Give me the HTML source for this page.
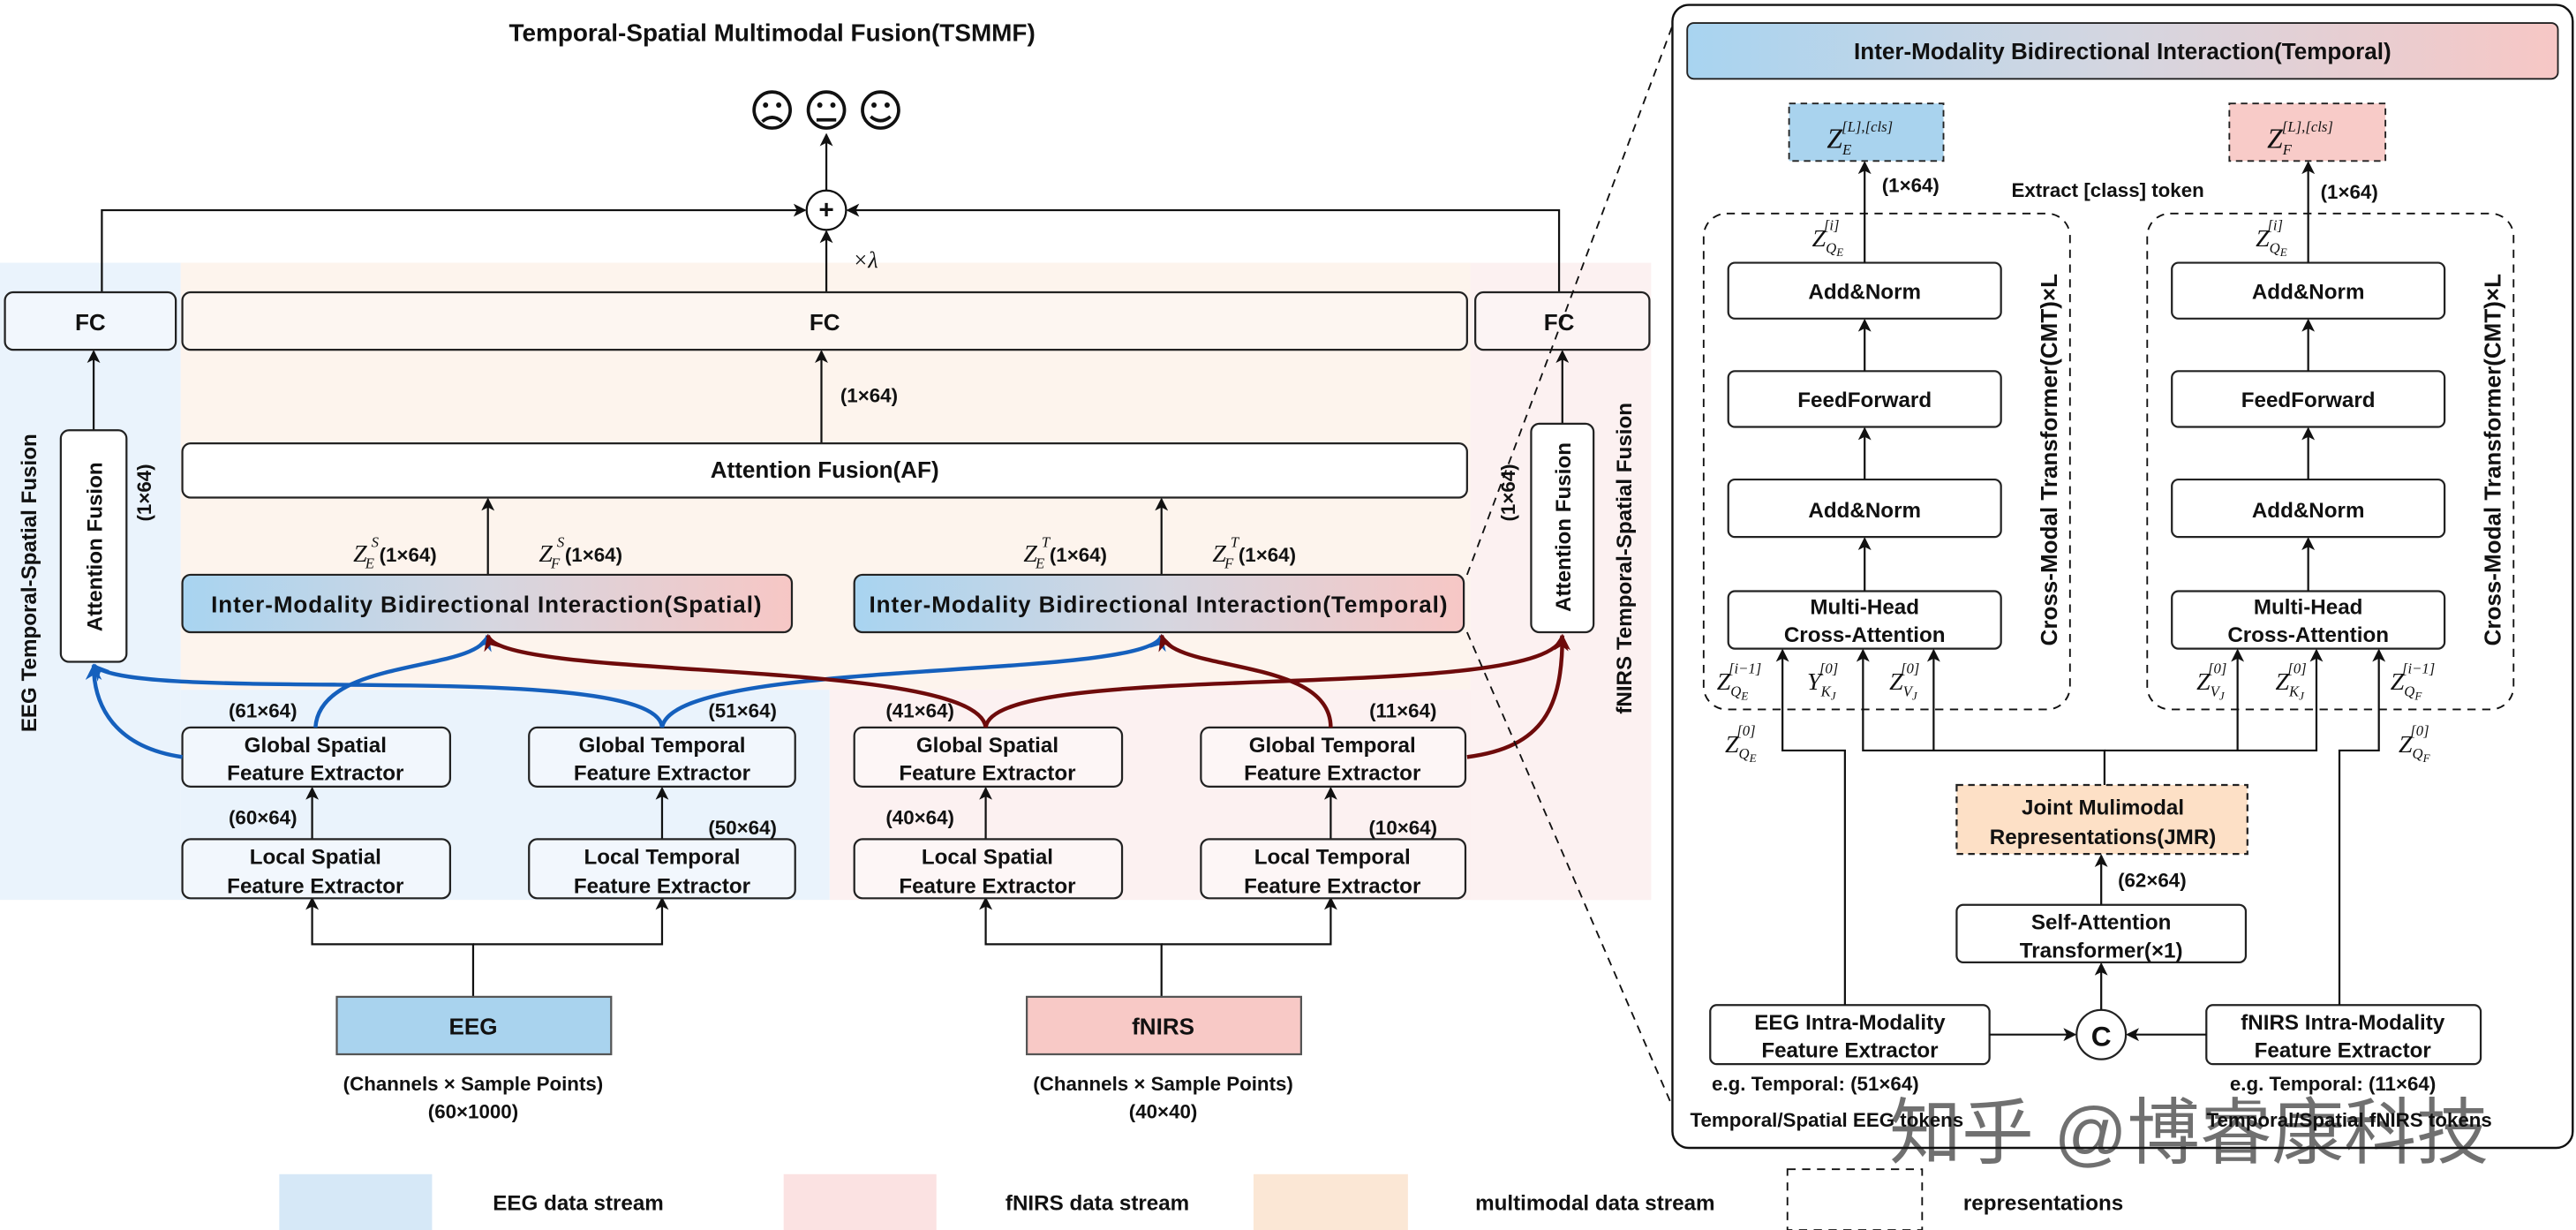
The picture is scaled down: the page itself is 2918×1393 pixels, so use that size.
<!DOCTYPE html>
<html><head><meta charset="utf-8"><style>
html,body{margin:0;padding:0;background:#fff;}
svg{display:block;}
text{font-family:"Liberation Sans",sans-serif;font-weight:bold;fill:#111;}
.m{font-family:"Liberation Serif",serif;font-style:italic;font-weight:normal;}
.s{font-size:9px;}
.t{font-size:7px;}
</style></head><body>
<svg width="2918" height="1393" viewBox="0 0 1568 749" preserveAspectRatio="none" xmlns="http://www.w3.org/2000/svg">
<defs>
<marker id="a" markerWidth="8" markerHeight="8" refX="7" refY="4" orient="auto" markerUnits="userSpaceOnUse"><path d="M0,0 L8,4 L0,8 L2,4 z" fill="#111"/></marker>
<marker id="ab" markerWidth="10" markerHeight="10" refX="9" refY="5" orient="auto" markerUnits="userSpaceOnUse"><path d="M0,0 L10,5 L0,10 L3,5 z" fill="#1560bd"/></marker>
<marker id="ar" markerWidth="10" markerHeight="10" refX="9" refY="5" orient="auto" markerUnits="userSpaceOnUse"><path d="M0,0 L10,5 L0,10 L3,5 z" fill="#6e0b0b"/></marker>
<linearGradient id="g" x1="0" x2="1"><stop offset="0" stop-color="#a8d4f0"/><stop offset="0.5" stop-color="#d5d6e0"/><stop offset="1" stop-color="#f7c7c5"/></linearGradient>
</defs>

<rect x="0" y="160" width="110" height="388" fill="#eaf3fc"/>
<rect x="110" y="420" width="395" height="128" fill="#eaf3fc"/>
<rect x="110" y="160" width="785" height="260" fill="#fdf4ed"/>
<rect x="505" y="420" width="500" height="128" fill="#fcf1f1"/>
<rect x="895" y="160" width="110" height="388" fill="#fcf1f1"/>

<text x="470" y="25" font-size="15" text-anchor="middle">Temporal-Spatial Multimodal Fusion(TSMMF)</text>
<!-- faces -->
<g stroke="#111" stroke-width="2" fill="none">
<circle cx="470" cy="67" r="11"/><circle cx="503" cy="67" r="11"/><circle cx="536" cy="67" r="11"/>
<path d="M464,74 Q470,69 476,74"/><line x1="497" y1="73" x2="509" y2="73"/><path d="M530,71 Q536,76 542,71"/>
</g>
<g fill="#111">
<circle cx="466" cy="64" r="1.6"/><circle cx="474" cy="64" r="1.6"/>
<circle cx="499" cy="64" r="1.6"/><circle cx="507" cy="64" r="1.6"/>
<circle cx="532" cy="64" r="1.6"/><circle cx="540" cy="64" r="1.6"/>
</g>

<g stroke="#111" stroke-width="1.2" fill="none">
<line x1="503" y1="116" x2="503" y2="82" marker-end="url(#a)"/>
<circle cx="503" cy="128" r="12" fill="#fff"/>
<polyline points="62,178 62,128 490,128" marker-end="url(#a)"/>
<polyline points="949,178 949,128 516,128" marker-end="url(#a)"/>
<line x1="503" y1="178" x2="503" y2="141" marker-end="url(#a)"/>
<line x1="500" y1="270" x2="500" y2="214" marker-end="url(#a)"/>
<line x1="297" y1="350" x2="297" y2="304" marker-end="url(#a)"/>
<line x1="707" y1="350" x2="707" y2="304" marker-end="url(#a)"/>
<line x1="57" y1="262" x2="57" y2="214" marker-end="url(#a)"/>
<line x1="951" y1="258" x2="951" y2="214" marker-end="url(#a)"/>
<line x1="190" y1="511" x2="190" y2="480" marker-end="url(#a)"/>
<line x1="403" y1="511" x2="403" y2="480" marker-end="url(#a)"/>
<line x1="600" y1="511" x2="600" y2="480" marker-end="url(#a)"/>
<line x1="810" y1="511" x2="810" y2="480" marker-end="url(#a)"/>
<polyline points="288,607 288,575 190,575 190,547" marker-end="url(#a)"/>
<polyline points="288,575 403,575 403,547" marker-end="url(#a)"/>
<polyline points="707,607 707,575 600,575 600,547" marker-end="url(#a)"/>
<polyline points="707,575 810,575 810,547" marker-end="url(#a)"/>
</g>
<text x="503" y="133" font-size="16" text-anchor="middle">+</text>
<text x="519" y="163" class="m" font-size="14">×λ</text>

<g stroke="#222" stroke-width="1.2" fill="#fff">
<rect x="3" y="178" width="104" height="35" rx="5" fill="#f2f7fd"/>
<rect x="111" y="178" width="782" height="35" rx="5" fill="#fdf6f1"/>
<rect x="898" y="178" width="106" height="35" rx="5" fill="#fcf4f4"/>
<rect x="111" y="270" width="782" height="33" rx="5" fill="#fff"/>
<rect x="111" y="350" width="371" height="35" rx="5" fill="url(#g)"/>
<rect x="520" y="350" width="371" height="35" rx="5" fill="url(#g)"/>
<rect x="37" y="262" width="40" height="141" rx="5"/>
<rect x="932" y="258" width="38" height="127" rx="5"/>
<rect x="111" y="443" width="163" height="36" rx="5" fill="#f2f7fd"/>
<rect x="322" y="443" width="162" height="36" rx="5" fill="#f2f7fd"/>
<rect x="520" y="443" width="163" height="36" rx="5" fill="#fdf6f6"/>
<rect x="731" y="443" width="161" height="36" rx="5" fill="#fdf6f6"/>
<rect x="111" y="511" width="163" height="36" rx="5" fill="#f2f7fd"/>
<rect x="322" y="511" width="162" height="36" rx="5" fill="#f2f7fd"/>
<rect x="520" y="511" width="163" height="36" rx="5" fill="#fdf6f6"/>
<rect x="731" y="511" width="161" height="36" rx="5" fill="#fdf6f6"/>
<rect x="205" y="607" width="167" height="35" fill="#a9d3ee" stroke="#555"/>
<rect x="625" y="607" width="167" height="35" fill="#f8c9c6" stroke="#555"/>
</g>
<g font-size="14" text-anchor="middle">
<text x="55" y="201">FC</text>
<text x="502" y="201">FC</text>
<text x="949" y="201">FC</text>
<text x="502" y="291">Attention Fusion(AF)</text>
<text x="296" y="373" textLength="335">Inter-Modality Bidirectional Interaction(Spatial)</text>
<text x="705" y="373" textLength="352">Inter-Modality Bidirectional Interaction(Temporal)</text>
<text x="288" y="630">EEG</text>
<text x="708" y="630">fNIRS</text>
</g>
<g font-size="13" text-anchor="middle">
<text x="192" y="458">Global Spatial</text><text x="192" y="475">Feature Extractor</text>
<text x="403" y="458">Global Temporal</text><text x="403" y="475">Feature Extractor</text>
<text x="601" y="458">Global Spatial</text><text x="601" y="475">Feature Extractor</text>
<text x="811" y="458">Global Temporal</text><text x="811" y="475">Feature Extractor</text>
<text x="192" y="526">Local Spatial</text><text x="192" y="544">Feature Extractor</text>
<text x="403" y="526">Local Temporal</text><text x="403" y="544">Feature Extractor</text>
<text x="601" y="526">Local Spatial</text><text x="601" y="544">Feature Extractor</text>
<text x="811" y="526">Local Temporal</text><text x="811" y="544">Feature Extractor</text>
</g>
<g font-size="12" text-anchor="middle">
<text x="160" y="437">(61×64)</text><text x="452" y="437">(51×64)</text>
<text x="560" y="437">(41×64)</text><text x="854" y="437">(11×64)</text>
<text x="160" y="502">(60×64)</text><text x="452" y="508">(50×64)</text>
<text x="560" y="502">(40×64)</text><text x="854" y="508">(10×64)</text>
<text x="529" y="245">(1×64)</text>
<text x="288" y="664">(Channels × Sample Points)</text>
<text x="288" y="681">(60×1000)</text>
<text x="708" y="664">(Channels × Sample Points)</text>
<text x="708" y="681">(40×40)</text>
</g>
<g font-size="12">
<text x="215" y="342"><tspan class="m" font-size="15">Z</tspan><tspan class="m s" dy="4" dx="-1">E</tspan><tspan dy="-4" dx="3">(1×64)</tspan></text>
<text x="328" y="342"><tspan class="m" font-size="15">Z</tspan><tspan class="m s" dy="4" dx="-1">F</tspan><tspan dy="-4" dx="3">(1×64)</tspan></text>
<text x="623" y="342"><tspan class="m" font-size="15">Z</tspan><tspan class="m s" dy="4" dx="-1">E</tspan><tspan dy="-4" dx="3">(1×64)</tspan></text>
<text x="738" y="342"><tspan class="m" font-size="15">Z</tspan><tspan class="m s" dy="4" dx="-1">F</tspan><tspan dy="-4" dx="3">(1×64)</tspan></text>
</g>
<text class="m s" x="226" y="333">S</text><text class="m s" x="339" y="333">S</text><text class="m s" x="634" y="333">T</text><text class="m s" x="749" y="333">T</text>
<text transform="translate(62,333) rotate(-90)" font-size="13" text-anchor="middle">Attention Fusion</text>
<text transform="translate(956,321) rotate(-90)" font-size="13" text-anchor="middle">Attention Fusion</text>
<text transform="translate(92,300) rotate(-90)" font-size="12" text-anchor="middle">(1×64)</text>
<text transform="translate(922,300) rotate(-90)" font-size="12" text-anchor="middle">(1×64)</text>
<text transform="translate(22,355) rotate(-90)" font-size="13" text-anchor="middle">EEG Temporal-Spatial Fusion</text>
<text transform="translate(993,340) rotate(-90)" font-size="13" text-anchor="middle">fNIRS Temporal-Spatial Fusion</text>

<g fill="none" stroke-width="2.4">
<path d="M111,461 C70,455 57,430 57,405" stroke="#1560bd" marker-end="url(#ab)"/>
<path d="M192,443 C195,400 290,410 297,387" stroke="#1560bd" marker-end="url(#ab)"/>
<path d="M403,443 C400,400 80,430 57,405" stroke="#1560bd" marker-end="url(#ab)"/>
<path d="M403,443 C410,400 700,415 707,387" stroke="#1560bd" marker-end="url(#ab)"/>
<path d="M600,443 C595,400 305,415 297,387" stroke="#6e0b0b" marker-end="url(#ar)"/>
<path d="M600,443 C605,400 945,430 951,387" stroke="#6e0b0b" marker-end="url(#ar)"/>
<path d="M810,443 C810,400 715,410 707,387" stroke="#6e0b0b" marker-end="url(#ar)"/>
<path d="M893,461 C940,455 951,430 951,387" stroke="#6e0b0b" marker-end="url(#ar)"/>
</g>

<g stroke="#111" stroke-width="1" stroke-dasharray="5,4" fill="none">
<line x1="893" y1="350" x2="1022" y2="5"/>
<line x1="893" y1="385" x2="1025" y2="690"/>
</g>

<rect x="170" y="715" width="93" height="34" fill="#d6e8f7"/>
<text x="300" y="737" font-size="13">EEG data stream</text>
<rect x="477" y="715" width="93" height="34" fill="#fbe2e2"/>
<text x="612" y="737" font-size="13">fNIRS data stream</text>
<rect x="763" y="715" width="94" height="34" fill="#fbe7d5"/>
<text x="898" y="737" font-size="13">multimodal data stream</text>
<rect x="1088" y="712" width="82" height="37" fill="none" stroke="#111" stroke-dasharray="5,4"/>
<text x="1195" y="737" font-size="13">representations</text>

<rect x="1018" y="3" width="548" height="696" rx="10" fill="#fff" stroke="#111" stroke-width="1.3"/>
<rect x="1027" y="14" width="530" height="34" rx="4" fill="url(#g)" stroke="#222"/>
<text x="1292" y="36" font-size="14" text-anchor="middle">Inter-Modality Bidirectional Interaction(Temporal)</text>
<rect x="1089" y="63" width="94" height="35" fill="#a9d3ee" stroke="#222" stroke-dasharray="4,3"/>
<rect x="1357" y="63" width="95" height="35" fill="#f8cbc8" stroke="#222" stroke-dasharray="4,3"/>
<text x="1112" y="90"><tspan class="m" font-size="17">Z</tspan><tspan class="m s" dy="4">E</tspan><tspan class="m s" dy="-14" dx="-6">[L],[cls]</tspan></text>
<text x="1380" y="90"><tspan class="m" font-size="17">Z</tspan><tspan class="m s" dy="4">F</tspan><tspan class="m s" dy="-14" dx="-6">[L],[cls]</tspan></text>
<text x="1163" y="117" font-size="12" text-anchor="middle">(1×64)</text>
<text x="1430" y="121" font-size="12" text-anchor="middle">(1×64)</text>
<text x="1283" y="120" font-size="12" text-anchor="middle">Extract [class] token</text>
<rect x="1037" y="130" width="223" height="302" rx="14" fill="none" stroke="#111" stroke-dasharray="5,4"/>
<rect x="1307" y="130" width="223" height="302" rx="14" fill="none" stroke="#111" stroke-dasharray="5,4"/>
<g stroke="#222" stroke-width="1.2" fill="#fff">
<rect x="1052" y="160" width="166" height="34" rx="4"/><rect x="1052" y="226" width="166" height="34" rx="4"/>
<rect x="1052" y="292" width="166" height="35" rx="4"/><rect x="1052" y="360" width="166" height="35" rx="4"/>
<rect x="1322" y="160" width="166" height="34" rx="4"/><rect x="1322" y="226" width="166" height="34" rx="4"/>
<rect x="1322" y="292" width="166" height="35" rx="4"/><rect x="1322" y="360" width="166" height="35" rx="4"/>
<rect x="1191" y="478" width="177" height="42" fill="#fde0c6" stroke-dasharray="4,3"/>
<rect x="1191" y="551" width="176" height="35" rx="4"/>
<rect x="1041" y="612" width="170" height="36" rx="4"/>
<rect x="1343" y="612" width="167" height="36" rx="4"/>
<circle cx="1279" cy="630" r="15"/>
</g>
<g font-size="13" text-anchor="middle">
<text x="1135" y="182">Add&amp;Norm</text><text x="1135" y="248">FeedForward</text>
<text x="1135" y="315">Add&amp;Norm</text><text x="1135" y="374">Multi-Head</text><text x="1135" y="391">Cross-Attention</text>
<text x="1405" y="182">Add&amp;Norm</text><text x="1405" y="248">FeedForward</text>
<text x="1405" y="315">Add&amp;Norm</text><text x="1405" y="374">Multi-Head</text><text x="1405" y="391">Cross-Attention</text>
<text x="1280" y="496">Joint Mulimodal</text><text x="1280" y="514">Representations(JMR)</text>
<text x="1279" y="566">Self-Attention</text><text x="1279" y="583">Transformer(×1)</text>
<text x="1126" y="627">EEG Intra-Modality</text><text x="1126" y="644">Feature Extractor</text>
<text x="1426" y="627">fNIRS Intra-Modality</text><text x="1426" y="644">Feature Extractor</text>
<text x="1279" y="637" font-size="17">C</text>
<text x="1105" y="664" font-size="12">e.g. Temporal: (51×64)</text>
<text x="1420" y="664" font-size="12">e.g. Temporal: (11×64)</text>
<text x="1112" y="686" font-size="12">Temporal/Spatial EEG tokens</text>
<text x="1430" y="686" font-size="12">Temporal/Spatial fNIRS tokens</text>
<text x="1310" y="540" font-size="12">(62×64)</text>
</g>
<text transform="translate(1252,280) rotate(-90)" font-size="14" text-anchor="middle">Cross-Modal Transformer(CMT)×L</text>
<text transform="translate(1522,280) rotate(-90)" font-size="14" text-anchor="middle">Cross-Modal Transformer(CMT)×L</text>
<g stroke="#111" stroke-width="1.2" fill="none">
<line x1="1135" y1="160" x2="1135" y2="99" marker-end="url(#a)"/>
<line x1="1135" y1="226" x2="1135" y2="195" marker-end="url(#a)"/>
<line x1="1135" y1="292" x2="1135" y2="261" marker-end="url(#a)"/>
<line x1="1135" y1="360" x2="1135" y2="328" marker-end="url(#a)"/>
<line x1="1405" y1="160" x2="1405" y2="99" marker-end="url(#a)"/>
<line x1="1405" y1="226" x2="1405" y2="195" marker-end="url(#a)"/>
<line x1="1405" y1="292" x2="1405" y2="261" marker-end="url(#a)"/>
<line x1="1405" y1="360" x2="1405" y2="328" marker-end="url(#a)"/>
<polyline points="1123,612 1123,457 1085,457 1085,396" marker-end="url(#a)"/>
<polyline points="1281,478 1281,457 1134,457 1134,396" marker-end="url(#a)"/>
<polyline points="1177,457 1177,396" marker-end="url(#a)"/>
<polyline points="1281,457 1410,457 1410,396" marker-end="url(#a)"/>
<polyline points="1362,457 1362,396" marker-end="url(#a)"/>
<polyline points="1424,612 1424,457 1448,457 1448,396" marker-end="url(#a)"/>
<line x1="1279" y1="551" x2="1279" y2="521" marker-end="url(#a)"/>
<line x1="1279" y1="615" x2="1279" y2="587" marker-end="url(#a)"/>
<line x1="1211" y1="630" x2="1263" y2="630" marker-end="url(#a)"/>
<line x1="1343" y1="630" x2="1295" y2="630" marker-end="url(#a)"/>
</g>
<g font-size="15">
<text x="1103" y="150"><tspan class="m">Z</tspan><tspan class="m s" dy="4">Q</tspan><tspan class="m t" dy="2">E</tspan><tspan class="m s" dy="-16" dx="-12">[i]</tspan></text>
<text x="1373" y="150"><tspan class="m">Z</tspan><tspan class="m s" dy="4">Q</tspan><tspan class="m t" dy="2">E</tspan><tspan class="m s" dy="-16" dx="-12">[i]</tspan></text>
<text x="1045" y="420"><tspan class="m">Z</tspan><tspan class="m s" dy="4">Q</tspan><tspan class="m t" dy="2">E</tspan><tspan class="m s" dy="-16" dx="-12">[i−1]</tspan></text>
<text x="1100" y="420"><tspan class="m">Y</tspan><tspan class="m s" dy="4">K</tspan><tspan class="m t" dy="2">J</tspan><tspan class="m s" dy="-16" dx="-10">[0]</tspan></text>
<text x="1150" y="420"><tspan class="m">Z</tspan><tspan class="m s" dy="4">V</tspan><tspan class="m t" dy="2">J</tspan><tspan class="m s" dy="-16" dx="-10">[0]</tspan></text>
<text x="1337" y="420"><tspan class="m">Z</tspan><tspan class="m s" dy="4">V</tspan><tspan class="m t" dy="2">J</tspan><tspan class="m s" dy="-16" dx="-10">[0]</tspan></text>
<text x="1385" y="420"><tspan class="m">Z</tspan><tspan class="m s" dy="4">K</tspan><tspan class="m t" dy="2">J</tspan><tspan class="m s" dy="-16" dx="-10">[0]</tspan></text>
<text x="1455" y="420"><tspan class="m">Z</tspan><tspan class="m s" dy="4">Q</tspan><tspan class="m t" dy="2">F</tspan><tspan class="m s" dy="-16" dx="-12">[i−1]</tspan></text>
<text x="1050" y="458"><tspan class="m">Z</tspan><tspan class="m s" dy="4">Q</tspan><tspan class="m t" dy="2">E</tspan><tspan class="m s" dy="-16" dx="-12">[0]</tspan></text>
<text x="1460" y="458"><tspan class="m">Z</tspan><tspan class="m s" dy="4">Q</tspan><tspan class="m t" dy="2">F</tspan><tspan class="m s" dy="-16" dx="-12">[0]</tspan></text>
</g>
<text x="1150" y="705" font-size="44" fill="#999" fill-opacity="0.6" style="font-family:'Liberation Sans','Noto Sans CJK SC',sans-serif;font-weight:normal">知乎 @博睿康科技</text>
</svg>
</body></html>
